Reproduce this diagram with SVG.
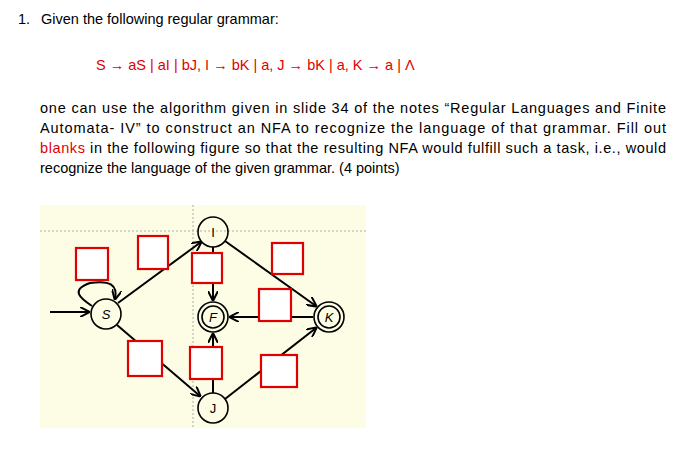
<svg xmlns="http://www.w3.org/2000/svg" width="698" height="458" viewBox="0 0 698 458">
<defs>
<style>
.t{font-family:"Liberation Sans",Arial,sans-serif;font-size:14.5px;fill:#000}
.r{fill:#e00000}
.e{stroke:#000;stroke-width:2;fill:none}
.n{fill:none;stroke:#000;stroke-width:1.6}
.b{fill:#fff;stroke:#e00000;stroke-width:2.2}
.l{font-family:"Liberation Sans",Arial,sans-serif;font-size:13px;text-anchor:middle}
</style>
<marker id="a" viewBox="0 0 10 10" refX="9" refY="5" markerWidth="5" markerHeight="5" orient="auto"><path d="M0,0L10,5L0,10" fill="none" stroke="#000" stroke-width="2"/></marker>
</defs>
<rect width="698" height="458" fill="#fff"/>
<text class="t" x="18" y="24">1.</text>
<text class="t" x="41" y="24">Given the following regular grammar:</text>
<text class="t r" x="96" y="70">S → aS | aI | bJ,   I → bK | a,   J → bK | a,   K → a | Λ</text>
<text class="t" x="40" y="113" textLength="626" lengthAdjust="spacing">one can use the algorithm given in slide 34 of the notes “Regular Languages and Finite</text>
<text class="t" x="40" y="133" textLength="626" lengthAdjust="spacing">Automata- IV” to construct an NFA to recognize the language of that grammar. Fill out</text>
<text class="t" x="40" y="153" textLength="626" lengthAdjust="spacing"><tspan class="r">blanks</tspan> in the following figure so that the resulting NFA would fulfill such a task, i.e., would</text>
<text class="t" x="40" y="173">recognize the language of the given grammar.   (4 points)</text>
<rect x="40" y="205" width="326" height="223" fill="#fdfde6"/>
<line x1="40" y1="231" x2="366" y2="231" stroke="#aaa" stroke-dasharray="2,2"/>
<line x1="193" y1="205" x2="193" y2="428" stroke="#aaa" stroke-dasharray="2,2"/>
<g id="connectors">
<line class="e" x1="50" y1="312" x2="89" y2="312" marker-end="url(#a)"/>
<path class="e" d="M92,306 C80,298 70,290 90,283 C110,280 118,285 115,299" marker-end="url(#a)"/>
<line class="e" x1="118" y1="303" x2="201" y2="242" marker-end="url(#a)"/>
<line class="e" x1="117" y1="325" x2="200" y2="396" marker-end="url(#a)"/>
<line class="e" x1="213" y1="247" x2="213" y2="300" marker-end="url(#a)"/>
<line class="e" x1="213" y1="393" x2="213" y2="334" marker-end="url(#a)"/>
<line class="e" x1="225" y1="241" x2="316" y2="306" marker-end="url(#a)"/>
<line class="e" x1="225" y1="399" x2="316" y2="328" marker-end="url(#a)"/>
<line class="e" x1="313" y1="317" x2="230" y2="317" marker-end="url(#a)"/>
</g>
<g id="S"><circle class="n" cx="106" cy="314" r="15" fill="#fdfde6"/><text class="l" x="106" y="319" font-style="italic">S</text></g>
<g id="I"><circle class="n" cx="213" cy="232" r="15" fill="#fdfde6"/><text class="l" x="213" y="237">I</text></g>
<g id="F"><circle class="n" cx="213" cy="317" r="15" fill="#fdfde6"/><circle class="n" cx="213" cy="317" r="11"/><text class="l" x="213" y="322" font-style="italic">F</text></g>
<g id="K"><circle class="n" cx="329" cy="317" r="15" fill="#fdfde6"/><circle class="n" cx="329" cy="317" r="11"/><text class="l" x="329" y="322" font-style="italic">K</text></g>
<g id="J"><circle class="n" cx="213" cy="408" r="15" fill="#fdfde6"/><text class="l" x="213" y="413">J</text></g>
<g id="blanks">
<rect class="b" x="76" y="248" width="32" height="32"/>
<rect class="b" x="138" y="236" width="30" height="33"/>
<rect class="b" x="192" y="253" width="30" height="30"/>
<rect class="b" x="272" y="243" width="31" height="31"/>
<rect class="b" x="259" y="289" width="32" height="32"/>
<rect class="b" x="128" y="341" width="34" height="35"/>
<rect class="b" x="190" y="347" width="32" height="32"/>
<rect class="b" x="261" y="355" width="36" height="32"/>
</g>
</svg>
